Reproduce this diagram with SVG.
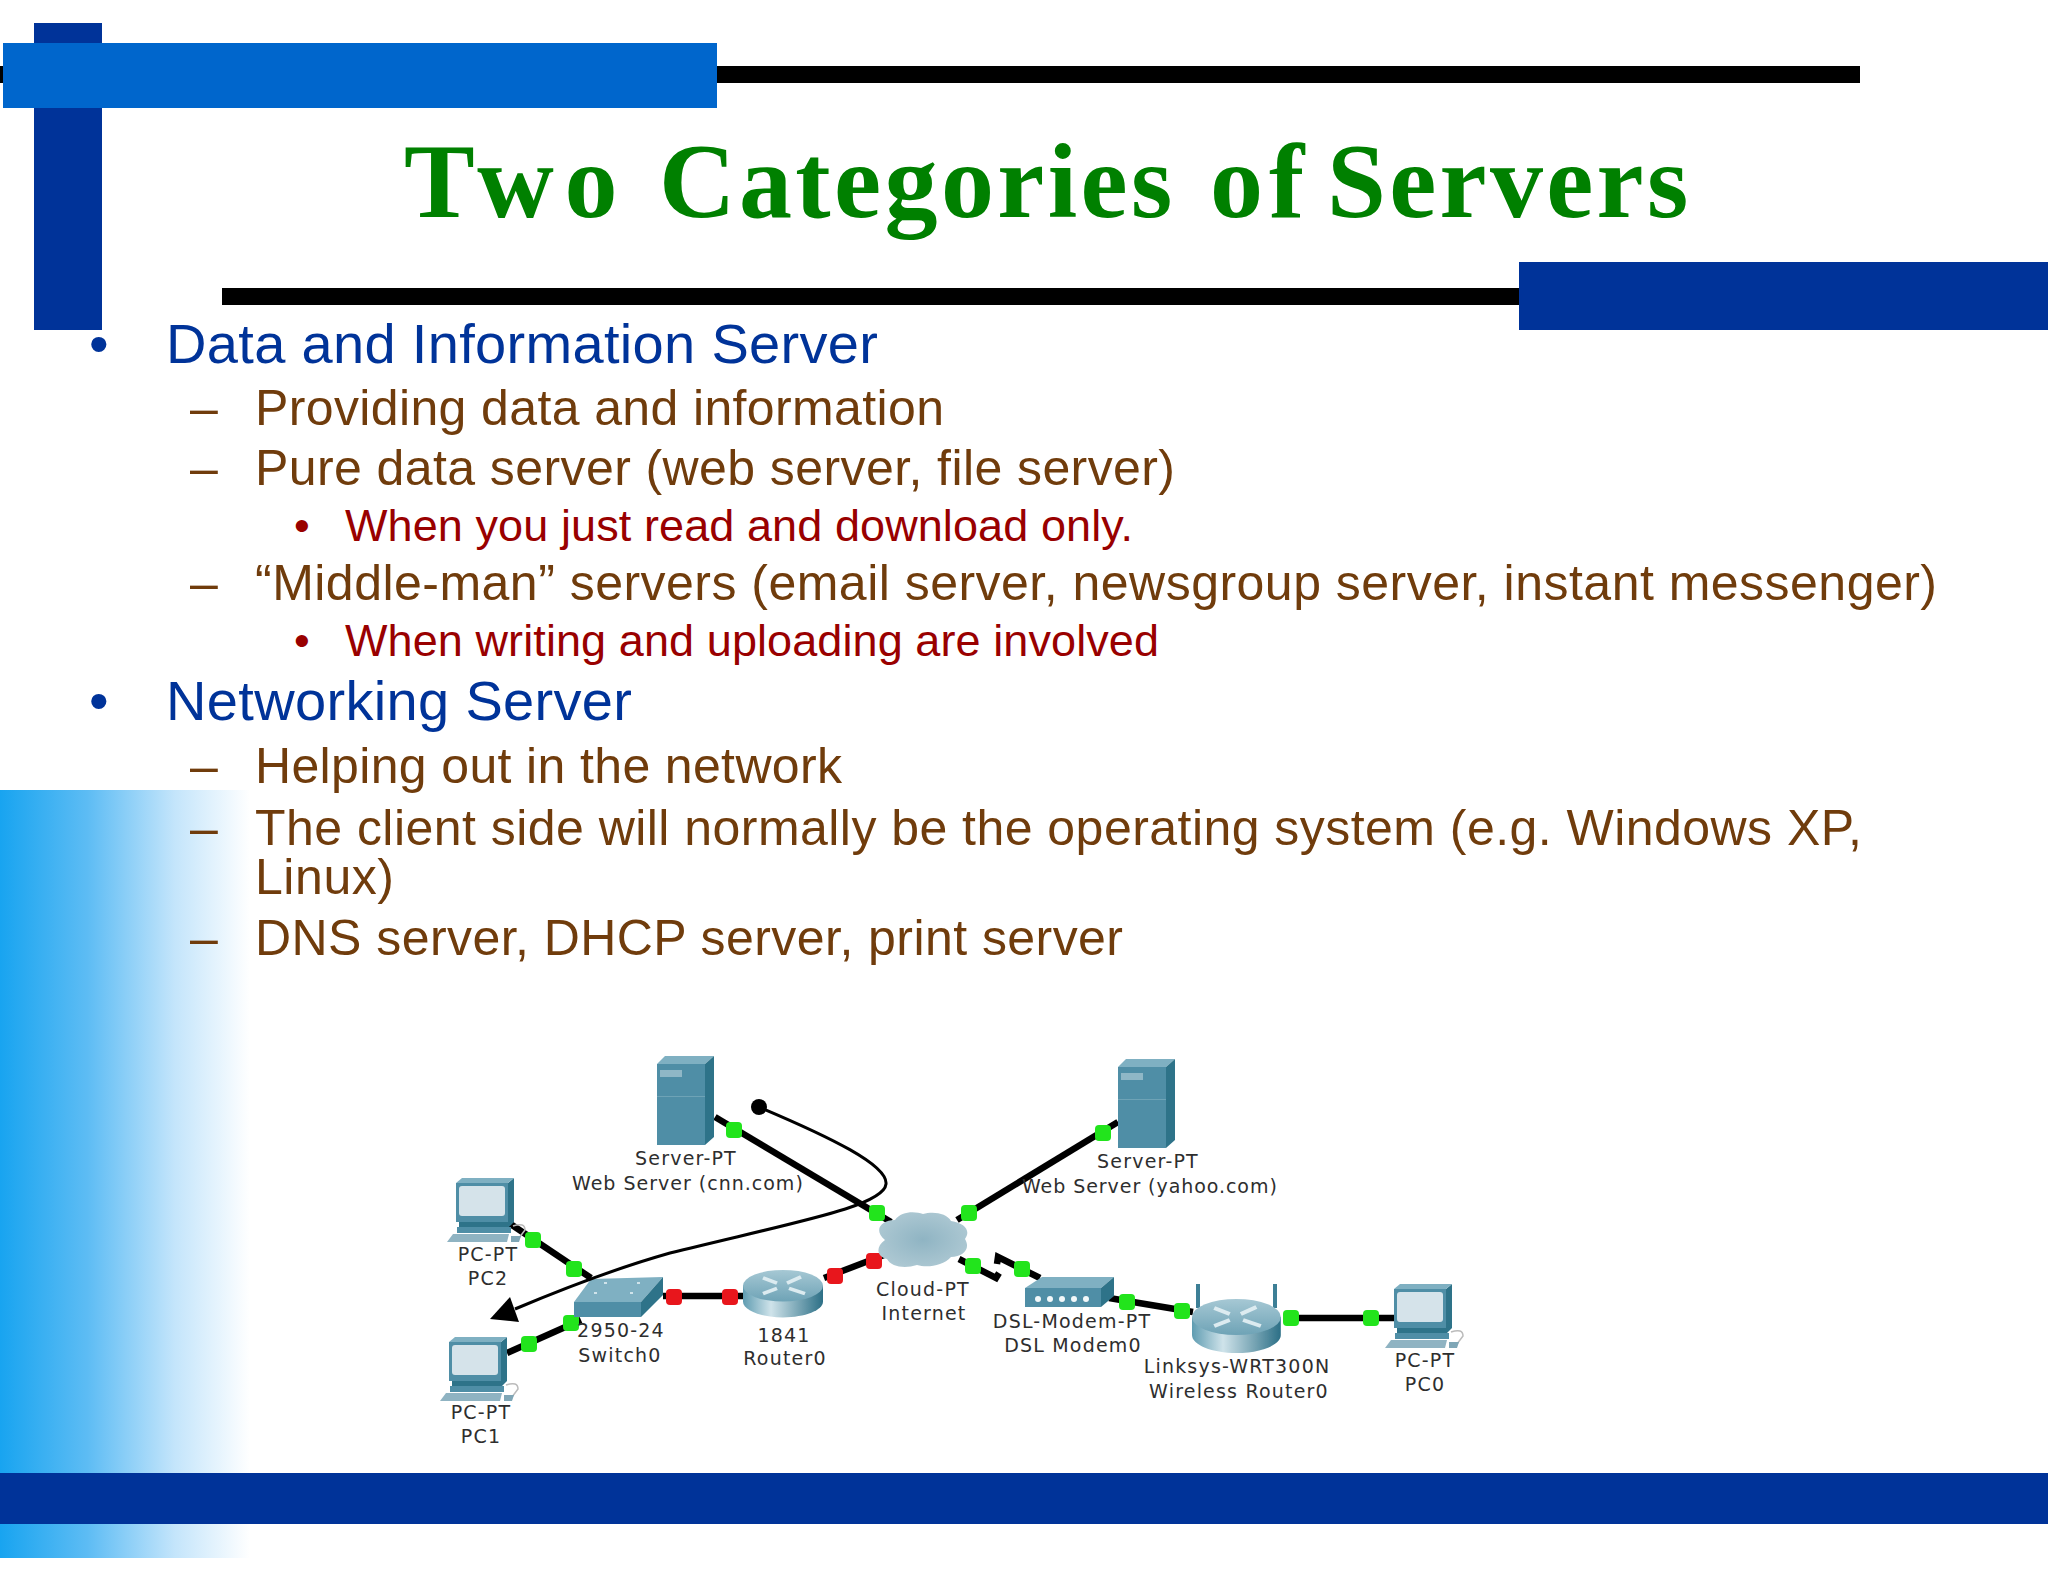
<svg xmlns="http://www.w3.org/2000/svg" width="2048" height="1582" viewBox="0 0 2048 1582">
<style>
text{font-family:"Liberation Sans",Arial,sans-serif}
.l1{font-size:56px;fill:#003399}
.l2{font-size:50px;fill:#703c0c}
.l3{font-size:45px;fill:#990000}
.t{font-family:"DejaVu Sans",Verdana,sans-serif;font-size:19px;fill:#2e2e2e;text-anchor:middle;letter-spacing:1.2px}
.w{fill:none;stroke:#000;stroke-width:6.5}
.g rect{fill:#20e41e;width:16px;height:16px;rx:4px}
.r rect{fill:#e8161b;width:16px;height:16px;rx:4px}
.front{fill:#4f8ea6}
.side{fill:#2f7389}
.top{fill:#7fb0c2}
</style>
<defs>
<filter id="soft" x="-5%" y="-5%" width="110%" height="110%"><feGaussianBlur stdDeviation="0.7"/></filter>
<linearGradient id="fade" x1="0" y1="0" x2="1" y2="0"><stop offset="0" stop-color="#18a4f0"/><stop offset=".35" stop-color="#5dbcf4"/><stop offset=".7" stop-color="#c4e5fb"/><stop offset="1" stop-color="#fff"/></linearGradient>
<linearGradient id="body" x1="0" y1="0" x2="1" y2="0"><stop offset="0" stop-color="#5f9cb1"/><stop offset=".35" stop-color="#cfe3ea"/><stop offset="1" stop-color="#2c6f86"/></linearGradient>
<linearGradient id="rtop" x1="0" y1="0" x2="0" y2="1"><stop offset="0" stop-color="#a6c8d4"/><stop offset="1" stop-color="#6ea3b6"/></linearGradient>
<radialGradient id="cl" cx=".5" cy=".5" r=".6"><stop offset="0" stop-color="#8fb4c3"/><stop offset="1" stop-color="#b0cad4"/></radialGradient>
<g id="pc">
<polygon class="side" points="61,5 67,0 67,44 61,50"/>
<polygon class="top" points="9,5 15,0 67,0 61,5"/>
<rect class="front" x="9" y="5" width="52" height="39"/>
<rect x="12" y="8" width="46" height="30" rx="3" fill="#d5e3ea"/>
<rect class="side" x="12" y="44" width="50" height="5"/>
<rect class="front" x="10" y="49" width="54" height="6"/>
<polygon fill="#8fb3c2" points="6,56 62,56 60,64 0,64"/>
<path d="M66 48q12-4 12 4l-6 8" fill="none" stroke="#bbb" stroke-width="1.5"/>
<polygon fill="#7fa6b6" points="64,58 74,58 72,64 64,64"/>
</g>
<g id="srv">
<polygon class="top" points="0,8 8,0 57,0 48,8"/>
<rect class="front" x="0" y="8" width="48" height="81"/>
<polygon class="side" points="48,8 57,0 57,81 48,89"/>
<rect x="3" y="14" width="22" height="7" fill="#8fb7c6"/>
<rect x="0" y="40" width="48" height="1" fill="#6ea3b6"/>
</g>
<g id="rt">
<path d="M0 19v18c0 10 18 18 40 18s40-8 40-18V19z" fill="url(#body)"/>
<ellipse cx="40" cy="19" rx="40" ry="18" fill="url(#rtop)"/>
<path d="M20 10l14 6M46 22l16 6M58 9l-14 7M34 22l-14 6" stroke="#dcebf0" stroke-width="4" fill="none"/>
</g>
</defs>

<rect width="2048" height="1582" fill="#fff"/>
<g id="slide-background">
<rect x="0" y="790" width="250" height="768" fill="url(#fade)"/>
<rect x="0" y="1473" width="2048" height="51" fill="#003399"/>
<rect x="34" y="23" width="68" height="307" fill="#003399"/>
<rect x="0" y="66" width="1860" height="17" fill="#000"/>
<rect x="3" y="43" width="714" height="65" fill="#0066cc"/>
<rect x="222" y="288" width="1320" height="17" fill="#000"/>
<rect x="1519" y="262" width="529" height="68" fill="#003399"/>
</g>

<g id="slide-text">
<text y="217" font-size="106" font-weight="bold" word-spacing="-26" style="font-family:'Liberation Serif','Times New Roman',serif" fill="#008000"><tspan x="404" letter-spacing="10.5">Two </tspan><tspan x="659" letter-spacing="3.4">Categories </tspan><tspan x="1210" letter-spacing="6">of </tspan><tspan x="1327" letter-spacing="3.3">Servers</tspan></text>
<text class="l1" x="89" y="363">•</text><text class="l1" x="166" y="363" textLength="712">Data and Information Server</text>
<text class="l2" x="190" y="425">–</text><text class="l2" x="255" y="425" textLength="689">Providing data and information</text>
<text class="l2" x="190" y="485">–</text><text class="l2" x="255" y="485" textLength="920">Pure data server (web server, file server)</text>
<text class="l3" x="294" y="541">•</text><text class="l3" x="345" y="541" textLength="788">When you just read and download only.</text>
<text class="l2" x="190" y="600">–</text><text class="l2" x="255" y="600" textLength="1682">“Middle-man” servers (email server, newsgroup server, instant messenger)</text>
<text class="l3" x="294" y="656">•</text><text class="l3" x="345" y="656" textLength="814">When writing and uploading are involved</text>
<text class="l1" x="89" y="720">•</text><text class="l1" x="166" y="720" textLength="466">Networking Server</text>
<text class="l2" x="190" y="783">–</text><text class="l2" x="255" y="783" textLength="587">Helping out in the network</text>
<text class="l2" x="190" y="845">–</text><text class="l2" x="255" y="845" textLength="1607">The client side will normally be the operating system (e.g. Windows XP,</text>
<text class="l2" x="255" y="894" textLength="139">Linux)</text>
<text class="l2" x="190" y="955">–</text><text class="l2" x="255" y="955" textLength="868">DNS server, DHCP server, print server</text>
</g>

<g id="connectors" filter="url(#soft)">
<path class="w" d="M715 1117L891 1222"/>
<path class="w" d="M509 1223L591 1278"/>
<path class="w" d="M507 1353L581 1320"/>
<path class="w" d="M663 1296H743"/>
<path class="w" d="M824 1278L884 1255"/>
<path class="w" d="M957 1220L1118 1122"/>
<path class="w" d="M959 1259L996 1278L999 1273"/>
<path class="w" d="M997 1264L998 1257L1040 1278"/>
<path class="w" d="M1109 1298L1193 1312"/>
<path class="w" d="M1283 1318H1394"/>
<g class="g">
<rect x="726" y="1122"/><rect x="869" y="1205"/>
<rect x="525" y="1232"/><rect x="566" y="1261"/>
<rect x="521" y="1336"/><rect x="563" y="1315"/>
<rect x="961" y="1205"/><rect x="1095" y="1125"/>
<rect x="965" y="1258"/><rect x="1014" y="1261"/>
<rect x="1119" y="1294"/><rect x="1174" y="1303"/>
<rect x="1283" y="1310"/><rect x="1363" y="1310"/>
</g>
<g class="r">
<rect x="666" y="1289"/><rect x="722" y="1289"/>
<rect x="827" y="1268"/><rect x="866" y="1253"/>
</g>
</g>

<g id="server0"><use href="#srv" x="657" y="1056" filter="url(#soft)"/><text class="t" x="686" y="1165">Server-PT</text><text class="t" x="688" y="1190" textLength="232">Web Server (cnn.com)</text></g>
<g id="server1"><use href="#srv" x="1118" y="1059" filter="url(#soft)"/><text class="t" x="1148" y="1168">Server-PT</text><text class="t" x="1150" y="1193" textLength="256">Web Server (yahoo.com)</text></g>
<g id="pc2"><use href="#pc" x="447" y="1178" filter="url(#soft)"/><text class="t" x="488" y="1261">PC-PT</text><text class="t" x="488" y="1285">PC2</text></g>
<g id="pc1"><use href="#pc" x="440" y="1337" filter="url(#soft)"/><text class="t" x="481" y="1419">PC-PT</text><text class="t" x="481" y="1443">PC1</text></g>
<g id="pc0"><use href="#pc" x="1385" y="1284" filter="url(#soft)"/><text class="t" x="1425" y="1367">PC-PT</text><text class="t" x="1425" y="1391">PC0</text></g>
<g id="switch0">
<g filter="url(#soft)">
<polygon class="top" points="591,1279 663,1277 641,1302 574,1302"/>
<rect class="front" x="574" y="1302" width="67" height="15"/>
<polygon class="side" points="641,1302 663,1277 663,1295 641,1317"/>
<path d="M604 1283h3M637 1283h3M594 1293h3M630 1293h3" stroke="#cfe3ea" stroke-width="2"/>
</g>
<text class="t" x="621" y="1337">2950-24</text><text class="t" x="620" y="1362">Switch0</text>
</g>
<g id="router0"><use href="#rt" transform="translate(743 1269) scale(1 .88)" filter="url(#soft)"/><text class="t" x="784" y="1342">1841</text><text class="t" x="785" y="1365">Router0</text></g>
<g id="cloud">
<path filter="url(#soft)" d="M885 1240c-12-10-4-20 10-20c6-9 20-9 28-6c10-3 24-1 28 7c14 2 20 10 14 18c6 10-2 18-14 18c-8 9-24 11-34 8c-12 4-26 2-30-6c-10-2-12-12-2-19z" fill="url(#cl)"/>
<text class="t" x="923" y="1296">Cloud-PT</text><text class="t" x="924" y="1320">Internet</text>
</g>
<g id="modem">
<g filter="url(#soft)">
<polygon class="top" points="1042,1277 1114,1277 1101,1288 1025,1288"/>
<rect class="front" x="1025" y="1288" width="76" height="19"/>
<polygon class="side" points="1101,1288 1114,1277 1114,1296 1101,1307"/>
<g fill="#f2f8fa"><circle cx="1038" cy="1299" r="3"/><circle cx="1050" cy="1299" r="3"/><circle cx="1062" cy="1299" r="3"/><circle cx="1074" cy="1299" r="3"/><circle cx="1086" cy="1299" r="3"/></g>
</g>
<text class="t" x="1072" y="1328">DSL-Modem-PT</text><text class="t" x="1073" y="1352">DSL Modem0</text>
</g>
<g id="wireless">
<path filter="url(#soft)" d="M1198 1284v24M1275 1284v24" stroke="#3d7f96" stroke-width="4"/>
<use href="#rt" transform="translate(1192 1298) scale(1.11 1)" filter="url(#soft)"/>
<text class="t" x="1237" y="1373">Linksys-WRT300N</text><text class="t" x="1239" y="1398">Wireless Router0</text>
</g>

<g id="annotation">
<path d="M759 1107C830 1137 888 1165 886 1184C884 1206 800 1221 670 1253C610 1270 560 1290 515 1309" fill="none" stroke="#000" stroke-width="3"/>
<circle cx="759" cy="1107" r="8" fill="#000"/>
<polygon points="490,1319 510,1297 519,1322" fill="#000"/>
</g>
</svg>
